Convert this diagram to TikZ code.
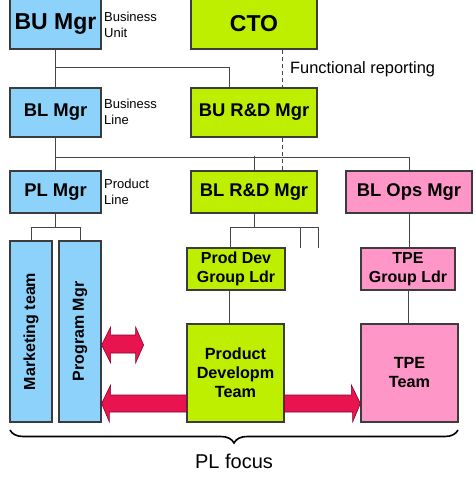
\documentclass[tikz,border=0pt]{standalone}
\usepackage{fontspec}
\setmainfont{Liberation Sans}
\usetikzlibrary{decorations.pathreplacing,calc}
\definecolor{bublue}{RGB}{140,210,250}
\definecolor{rdgreen}{RGB}{190,238,0}
\definecolor{opspink}{RGB}{255,150,200}
\definecolor{boxline}{RGB}{60,60,60}
\definecolor{linegray}{RGB}{70,70,70}
\definecolor{arrowred}{RGB}{232,20,80}
\definecolor{arrowdark}{RGB}{140,0,40}
\tikzset{
    box/.style={
        draw=boxline,
        line width=1.2pt,
        inner sep=0pt,
        align=center,
        font=\bfseries\fontsize{18.4}{20}\selectfont
    },
    bubox/.style={box, fill=bublue},
    rdbox/.style={box, fill=rdgreen},
    opsbox/.style={box, fill=opspink},
    smalltext/.style={font=\bfseries\fontsize{16}{18.5}\selectfont},
    conn/.style={draw=linegray, line width=0.9pt},
    funcline/.style={conn, dash pattern=on 4pt off 3pt},
    sidelabel/.style={
        anchor=west,
        align=left,
        inner sep=0pt,
        font=\fontsize{13}{16}\selectfont
    },
    fatarrow/.style={fill=arrowred, draw=arrowdark, line width=0.6pt}
}

\begin{document}
\begin{tikzpicture}[x=1pt, y=-1pt]
\useasboundingbox (0,0) rectangle (474,489);
% top row
\node[bubox, minimum width=91pt, minimum height=50pt,
      font=\bfseries\fontsize{23}{25}\selectfont] (bumgr) at (55.5,24) {BU Mgr};
\node[rdbox, minimum width=126pt, minimum height=50pt,
      font=\bfseries\fontsize{23}{25}\selectfont] (cto) at (254,24) {CTO};
% second row
\node[bubox, minimum width=91pt, minimum height=49pt] (blmgr) at (55.5,112.5) {BL Mgr};
\node[rdbox, minimum width=126pt, minimum height=49pt] (burd) at (254,112.5) {BU R\&D Mgr};
% third row
\node[bubox, minimum width=91pt, minimum height=42pt] (plmgr) at (55.5,192) {PL Mgr};
\node[rdbox, minimum width=126pt, minimum height=42pt] (blrd) at (254,192) {BL R\&D Mgr};
\node[opsbox, minimum width=126pt, minimum height=42pt] (blops) at (409,192) {BL Ops Mgr};
% group leaders
\node[rdbox, smalltext, minimum width=98pt, minimum height=42pt] (pdldr) at (236,269) {Prod Dev\\Group Ldr};
\node[opsbox, smalltext, minimum width=94pt, minimum height=42pt] (tpeldr) at (408,269) {TPE\\Group Ldr};
% teams
\node[bubox, minimum width=42pt, minimum height=181pt] (mkt) at (31,331.5) {};
\node[smalltext, rotate=90] (mkttext) at (mkt) {Marketing team};
\node[bubox, minimum width=42pt, minimum height=181pt] (pgm) at (80,331.5) {};
\node[smalltext, rotate=90] (pgmtext) at (pgm) {Program Mgr};
\node[rdbox, smalltext, font=\bfseries\fontsize{16.2}{19}\selectfont,
      minimum width=97pt, minimum height=98pt] (pdteam) at (235.5,373) {Product\\Developm\\Team};
\node[opsbox, smalltext, font=\bfseries\fontsize{16.2}{19}\selectfont,
      minimum width=97pt, minimum height=98pt] (tpeteam) at (409.5,373) {TPE\\Team};

% side labels
\node[sidelabel] (bulabel) at (104,25) {Business\\Unit};
\node[sidelabel] (bllabel) at (104,112) {Business\\Line};
\node[sidelabel] (pllabel) at (104,192) {Product\\Line};
\node[sidelabel, font=\fontsize{16.4}{18}\selectfont] (funclabel) at (290,69) {Functional reporting};

% reporting lines
\draw[conn] (bumgr) -- (blmgr);
\draw[conn] ($(bumgr.south)+(0,18)$) -| ([xshift=-25pt]burd.north);
\draw[conn] (blmgr) -- (plmgr);
\draw[conn] ($(blmgr.south)+(0,20)$) -| (blops.north);
\draw[conn] (blrd.north) -- ++(0,-14);
\draw[funcline] ([xshift=28pt]cto.south) -- ([xshift=28pt]burd.north);
\draw[funcline] ([xshift=28pt]burd.south) -- ([xshift=28pt]blrd.north);
% BL R&D branches
\coordinate (stubA) at (300,248);
\coordinate (stubB) at (318,248);
\draw[conn] (blrd.south) -- ++(0,14) coordinate (rdjoin);
\draw[conn] ([xshift=-6pt]pdldr.north) |- (stubB |- rdjoin) -- (stubB);
\draw[conn] (stubA |- rdjoin) -- (stubA);
\draw[conn] ([xshift=-7pt]pdldr.south) -- ([xshift=-6.5pt]pdteam.north);
\draw[conn] (blops.south) -- (blops.south |- tpeldr.north);
\draw[conn] (tpeldr.south) -- (tpeldr.south |- tpeteam.north);
% PL Mgr branches
\draw[conn] (plmgr.south) -- ++(0,14) coordinate (pljoin);
\draw[conn] (mkt.north) |- (pljoin) -| (pgm.north);

% fat arrows
\draw[fatarrow] (pgm.east |- 0,345) -- ++(9,-18) -- ++(0,8) -- ++(25,0) -- ++(0,-8)
    -- ++(8,18) -- ++(-8,18) -- ++(0,-10) -- ++(-25,0) -- ++(0,10) -- cycle;
\draw[fatarrow] (pgm.east |- 0,403.5) -- ++(9,-18.5) -- ++(0,10) -| (pdteam.west |- 0,412)
    -- ++(-77,0) -- ++(0,10) -- cycle;
\draw[fatarrow] (tpeteam.west |- 0,403.5) -- ++(-9,-18.5) -- ++(0,10) -| (pdteam.east |- 0,412)
    -- ++(68,0) -- ++(0,10) -- cycle;

% brace
\draw[line width=1.6pt, decorate, decoration={brace, mirror, amplitude=13pt}]
    (10,430) -- (458,430) node[midway, below=20pt, font=\fontsize{20}{22}\selectfont] (focus) {PL focus};
\end{tikzpicture}
\end{document}
